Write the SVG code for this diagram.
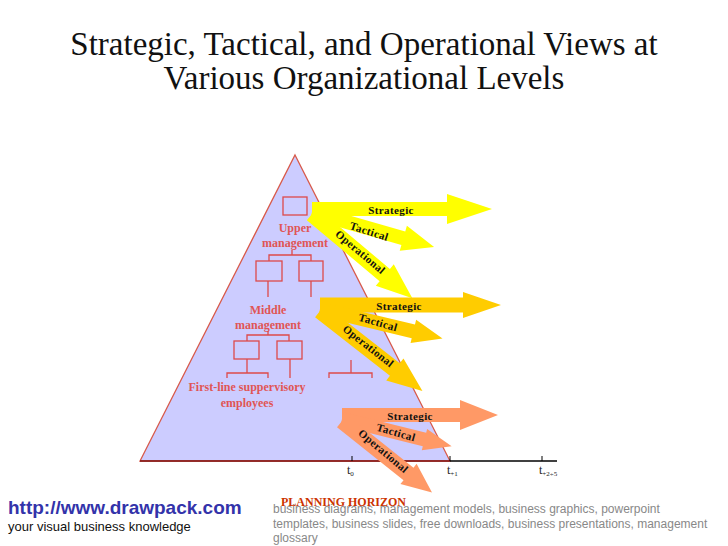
<svg xmlns="http://www.w3.org/2000/svg" width="728" height="546" viewBox="0 0 728 546">
<style>
.title{font-family:"Liberation Serif","Times New Roman",serif;font-size:33px;fill:#111;text-anchor:middle}
.org{font-family:"Liberation Serif",serif;font-weight:bold;font-size:12px;fill:#e05555;text-anchor:middle}
.ln{fill:none;stroke:#dd4a4a;stroke-width:1.3}
.lbl{font-family:"Liberation Serif",serif;font-weight:bold;font-size:11px;fill:#111;text-anchor:middle;letter-spacing:0.4px}
.y1{fill:#ffff00}
.y2{fill:#ffcc00}
.y3{fill:#ff9966}
.tk{font-family:"Liberation Serif",serif;font-size:12px;fill:#222}
.sub{font-size:7px}
</style>
<rect width="728" height="546" fill="#fff"/>
<g id="title">
<text class="title" x="364" y="55">Strategic, Tactical, and Operational Views at</text>
<text class="title" x="364" y="89">Various Organizational Levels</text>
</g>
<g id="pyramid">
<polygon points="295,155 450,461 140,461" fill="#ccccff" stroke="#d85a4a" stroke-width="1.3"/>
</g>
<g id="upper">
<rect class="ln" x="283" y="197" width="24" height="18"/>
<text class="org" x="295" y="232">Upper</text>
<text class="org" x="295" y="247">management</text>
<path class="ln" d="M292,250 V255 M269,261 V255 H311 V261"/>
<rect class="ln" x="256" y="261" width="26" height="20"/>
<rect class="ln" x="299" y="261" width="24" height="20"/>
<path class="ln" d="M268,281 V297 M311,281 V297"/>
</g>
<g id="middle">
<text class="org" x="268" y="314">Middle</text>
<text class="org" x="268" y="329">management</text>
<path class="ln" d="M268,331 V335 M247,341 V335 H289 V341"/>
<rect class="ln" x="234" y="341" width="25" height="18"/>
<rect class="ln" x="277" y="341" width="25" height="18"/>
<path class="ln" d="M247,359 V373 M227,378 V373 H268 V378 M290,359 V378"/>
<path class="ln" d="M351,360 V373 M329,378 V373 H372 V378"/>
</g>
<g id="firstline">
<text class="org" x="247" y="391">First-line suppervisory</text>
<text class="org" x="247" y="407">employees</text>
</g>
<g id="axis">
<line x1="140" y1="461" x2="450" y2="461" stroke="#7a1010" stroke-width="1.5"/>
<line x1="450" y1="461" x2="557" y2="461" stroke="#000" stroke-width="1.3"/>
<path d="M352,456 V461 M450,456 V461 M542,456 V461" stroke="#000" stroke-width="1"/>
<text class="tk" x="347" y="474">t<tspan class="sub" dy="2">0</tspan></text>
<text class="tk" x="447" y="474">t<tspan class="sub" dy="2">+1</tspan></text>
<text class="tk" x="539" y="474">t<tspan class="sub" dy="2">+2÷5</tspan></text>
</g>
<g id="connectors">
<g id="upper-arrows">
<polygon class="y1" transform="translate(312,209)" points="0,-7 135,-7 135,-15 180,0 135,15 135,7 0,7"/>
<polygon class="y1" transform="translate(312,212) rotate(16)" points="0,-7 95,-7 95,-13 127,0 95,13 95,7 0,7"/>
<polygon class="y1" transform="translate(312,214) rotate(40)" points="0,-8 95,-8 95,-14 131,0 95,14 95,8 0,8"/>
</g>
<g id="middle-arrows">
<polygon class="y2" transform="translate(320,305)" points="0,-7.5 143,-7.5 143,-13 181,0 143,13 143,7.5 0,7.5"/>
<polygon class="y2" transform="translate(320,309) rotate(13.5)" points="0,-7 96,-7 96,-12 126,0 96,12 96,7 0,7"/>
<polygon class="y2" transform="translate(320,311) rotate(38)" points="0,-8 95,-8 95,-14 130,0 95,14 95,8 0,8"/>
</g>
<g id="lower-arrows">
<polygon class="y3" transform="translate(342,415)" points="0,-7 118,-7 118,-15 156,0 118,15 118,7 0,7"/>
<polygon class="y3" transform="translate(342,419) rotate(14)" points="0,-7 85,-7 85,-11 113,0 85,11 85,7 0,7"/>
<polygon class="y3" transform="translate(342,421) rotate(38.5)" points="0,-8 85,-8 85,-13 115,0 85,13 85,8 0,8"/>
</g>
</g>
<g id="arrow-labels">
<text class="lbl" x="391" y="214">Strategic</text>
<text class="lbl" transform="translate(368,235) rotate(18)">Tactical</text>
<text class="lbl" transform="translate(358,255) rotate(40)">Operational</text>
<text class="lbl" x="399" y="310">Strategic</text>
<text class="lbl" transform="translate(377,326) rotate(16)">Tactical</text>
<text class="lbl" transform="translate(366,349) rotate(38)">Operational</text>
<text class="lbl" x="410" y="420">Strategic</text>
<text class="lbl" transform="translate(395,436) rotate(16)">Tactical</text>
<text class="lbl" transform="translate(381,454) rotate(40)">Operational</text>
</g>
<g id="footer">
<text x="8" y="514" font-family="Liberation Sans,Arial,sans-serif" font-weight="bold" font-size="19" fill="#3333aa">http://www.drawpack.com</text>
<text x="8" y="531" font-family="Liberation Sans,Arial,sans-serif" font-size="13" fill="#111">your visual business knowledge</text>
<g font-family="Liberation Sans,Arial,sans-serif" font-size="12" fill="#888">
<text x="273" y="513">business diagrams, management models, business graphics, powerpoint</text>
<text x="273" y="528">templates, business slides, free downloads, business presentations, management</text>
<text x="273" y="542">glossary</text>
</g>
<text x="281" y="506" font-family="Liberation Serif,serif" font-weight="bold" font-size="12" fill="#cc3300">PLANNING HORIZON</text>
</g>
</svg>
